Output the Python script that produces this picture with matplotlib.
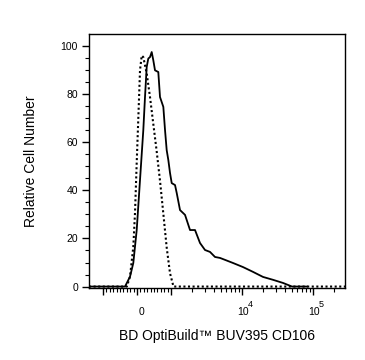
import numpy as np
import matplotlib
matplotlib.use("Agg")
import matplotlib.pyplot as plt
from matplotlib.ticker import FixedLocator, NullFormatter
from matplotlib.transforms import offset_copy

plt.rcParams['font.family'] = ['Liberation Sans', 'DejaVu Sans']

# stained sample (solid line)
stained_x = [-1575, -353, -206, -109, -9, 88, 185, 235, 285, 332, 382, 432, 479, 529,
             626, 676, 774, 824, 873, 921, 971, 1023, 1139, 1203, 1339, 1575, 1852,
             2178, 2561, 3011, 3541, 4164, 4896, 5756, 7463, 10330, 14290, 19760,
             27330, 37800, 50600, 65600, 82300]
stained_y = [0, 0, 4.1, 9.8, 23.5, 44.3, 65.0, 78.8, 91.3, 94.8, 95.4, 97.5, 94.1, 89.9,
             89.2, 78.8, 74.7, 65.0, 56.7, 52.6, 47.2, 43.0, 42.2, 38.9, 31.8, 29.8,
             23.5, 23.5, 18.1, 15.2, 14.4, 12.3, 11.9, 11.1, 9.8, 8.1, 6.1, 4.0, 2.8,
             1.5, 0, 0, 0]

# control (dotted line)
control_x = [-1575, -300, -206, -109, -59, -9, 44, 88, 138, 185, 285, 382, 479, 577,
             676, 774, 873, 971, 1083, 282000]
control_y = [0, 0, 4.1, 16.5, 30.7, 51.5, 72.2, 89.9, 96.0, 95.4, 88.6, 78.8, 67.6,
             56.4, 44.0, 30.3, 16.2, 5.5, 0, 0]

y_ticks = [0, 20, 40, 60, 80, 100]
x_major = [-1000, 0, 1000, 10000, 100000]
# (tick value, base text, exponent text)
x_labels = [(0, '0', ''), (10000, '10', '4'), (100000, '10', '5')]

fig = plt.figure(figsize=(3.65, 3.6), dpi=100)
ax = fig.add_axes([89 / 365, 1 - 288 / 360, 256 / 365, 254 / 360])

ax.plot(stained_x, stained_y, color='black', lw=1.3)
ax.plot(control_x, control_y, color='black', lw=1.5, ls=(0, (1, 1.2)))

ax.set_xscale('symlog', linthresh=1000, linscale=0.431)
ax.set_xlim(-1575, 282000)
ax.set_ylim(-0.6, 105)

minor = [-v for v in range(100, 1000, 100)] + list(range(100, 1000, 100))
for dec in [1000, 10000, 100000]:
    minor += [k * dec for k in range(2, 10) if k * dec < 282000]
ax.xaxis.set_major_locator(FixedLocator(x_major))
ax.xaxis.set_major_formatter(NullFormatter())
ax.xaxis.set_minor_locator(FixedLocator(minor))

# x tick labels: "10" centred on the tick, exponent raised to its right
trans = ax.get_xaxis_transform()
for val, base, expo in x_labels:
    if expo:
        ax.text(val, 0, base, transform=offset_copy(trans, fig, x=0.5, y=-17, units='points'),
                ha='center', va='center', fontsize=7.5)
        ax.text(val, 0, expo, transform=offset_copy(trans, fig, x=6, y=-12, units='points'),
                ha='center', va='center', fontsize=6.5)
    else:
        ax.text(val, 0, base, transform=offset_copy(trans, fig, x=3, y=-17.5, units='points'),
                ha='center', va='center', fontsize=7.5)

ax.set_yticks(y_ticks)
ax.set_yticks(np.arange(0, 105, 5), minor=True)

ax.tick_params(axis='both', which='major', direction='out', length=5, width=1,
               labelsize=7.5, pad=3)
ax.tick_params(axis='both', which='minor', direction='out', length=3, width=0.8)

for s in ax.spines.values():
    s.set_linewidth(1)

ax.set_ylabel('Relative Cell Number', fontsize=10, labelpad=16)
ax.set_xlabel('BD OptiBuild\u2122 BUV395 CD106', fontsize=10, labelpad=21.5)

fig.savefig('out.png', dpi=100)
